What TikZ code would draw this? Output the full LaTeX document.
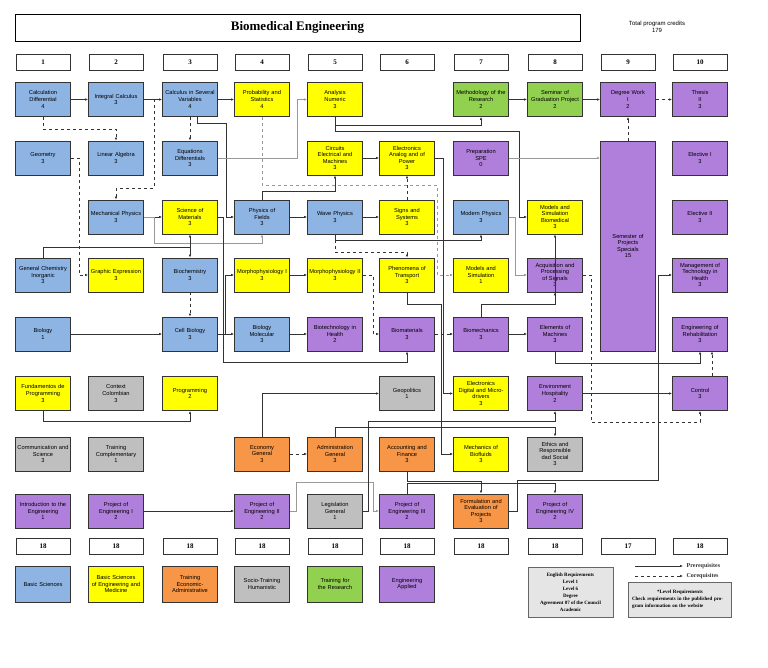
\documentclass[tikz,border=0pt]{standalone}
\usepackage{fontspec}
\setmainfont{Liberation Sans}
\newfontfamily\serifm{Liberation Serif}
\usetikzlibrary{arrows.meta,calc}
\definecolor{cB}{HTML}{8EB4E3}
\definecolor{cY}{HTML}{FFFF00}
\definecolor{cO}{HTML}{F79646}
\definecolor{cG}{HTML}{BFBFBF}
\definecolor{cN}{HTML}{92D050}
\definecolor{cP}{HTML}{B07FDB}
\begin{document}
\begin{tikzpicture}[x=1pt,y=-1pt,
 box/.style={draw=black!80,line width=0.8pt,minimum width=54pt,minimum height=34pt,align=center,font=\fontsize{5.7}{6.6}\selectfont,inner sep=1pt,text width=53pt},
 B/.style={box,fill=cB},Y/.style={box,fill=cY},O/.style={box,fill=cO},
 G/.style={box,fill=cG},N/.style={box,fill=cN},P/.style={box,fill=cP},
 num/.style={draw=black!80,line width=0.8pt,minimum width=54pt,minimum height=16pt,font=\serifm\fontsize{7}{8}\selectfont\bfseries},
 pre/.style={line width=0.6pt,black!80,-{Latex[length=3pt,width=2.5pt]}},
 co/.style={pre,dashed},
 gp/.style={pre,black!40},gc/.style={co,black!40}]
\useasboundingbox (0,0) rectangle (768,668);
\node[draw,line width=0.8pt,minimum width=565pt,minimum height=27pt,font=\serifm\fontsize{13}{15}\selectfont\bfseries] (title) at (297.5,27.5) {Biomedical Engineering};
\node[font=\fontsize{6}{7}\selectfont,align=center] (tot) at (657,27) {Total program credits\\179};
% headers
\foreach \i/\x in {1/43,2/116,3/190,4/262,5/335,6/407,7/481,8/555,9/628,10/700}
 \node[num] (h\i) at (\x,62) {\i};
\foreach \i/\x/\t in {1/43/18,2/116/18,3/190/18,4/262/18,5/335/18,6/407/18,7/481/18,8/555/18,9/628/17,10/700/18}
 \node[num] (c\i) at (\x,546) {\t};
% col1
\node[B] (cd) at (43,99.5) {Calculation\\Differential\\4};
\node[B] (geo) at (43,158) {Geometry\\3};
\node[B] (gc) at (43,275) {General Chemistry\\Inorganic\\3};
\node[B] (bio) at (43,334) {Biology\\1};
\node[Y] (fp) at (43,393.5) {Fundamentos de\\Programming\\3};
\node[G] (cs1) at (43,454) {Communication and\\Science\\3};
\node[P] (ie) at (43,511) {Introduction to the\\Engineering\\1};
% col2
\node[B] (ic) at (116,99.5) {Integral Calculus\\3};
\node[B] (la) at (116,158) {Linear Algebra\\3};
\node[B] (mp) at (116,217) {Mechanical Physics\\3};
\node[Y] (ge) at (116,275) {Graphic Expression\\3};
\node[G] (cc) at (116,393.5) {Context\\Colombian\\3};
\node[G] (tc) at (116,454) {Training\\Complementary\\1};
\node[P] (p1) at (116,511) {Project of\\Engineering I\\2};
% col3
\node[B] (cs) at (190,99.5) {Calculus in Several\\Variables\\4};
\node[B] (eqd) at (190,158) {Equations\\Differentials\\3};
\node[Y] (sm) at (190,217) {Science of\\Materials\\3};
\node[B] (bc) at (190,275) {Biochemistry\\3};
\node[B] (cb) at (190,334) {Cell Biology\\3};
\node[Y] (prog) at (190,393.5) {Programming\\2};
% col4
\node[Y] (ps) at (262,99.5) {Probability and\\Statistics\\4};
\node[B] (pf) at (262,217) {Physics of\\Fields\\3};
\node[Y] (m1) at (262,275) {Morphophysiology I\\3};
\node[B] (bm) at (262,334) {Biology\\Molecular\\3};
\node[O] (eg) at (262,454) {Economy\\General\\3};
\node[P] (p2) at (262,511) {Project of\\Engineering II\\2};
% col5
\node[Y] (an) at (335,99.5) {Analysis\\Numeric\\3};
\node[Y] (ce) at (335,158) {Circuits\\Electrical and\\Machines\\3};
\node[B] (wp) at (335,217) {Wave Physics\\3};
\node[Y] (m2) at (335,275) {Morphophysiology II\\3};
\node[P] (bt) at (335,334) {Biotechnology in\\Health\\2};
\node[O] (adm) at (335,454) {Administration\\General\\3};
\node[G] (leg) at (335,511) {Legislation\\General\\1};
% col6
\node[Y] (ea) at (407,158) {Electronics\\Analog and of\\Power\\3};
\node[Y] (ss) at (407,217) {Signs and\\Systems\\3};
\node[Y] (pt) at (407,275) {Phenomena of\\Transport\\3};
\node[P] (bmat) at (407,334) {Biomaterials\\3};
\node[G] (gp6) at (407,393.5) {Geopolitics\\1};
\node[O] (af) at (407,454) {Accounting and\\Finance\\3};
\node[P] (p3) at (407,511) {Project of\\Engineering III\\2};
% col7
\node[N] (meth) at (481,99.5) {Methodology of the\\Research\\2};
\node[P] (spe) at (481,158) {Preparation\\SPE\\0};
\node[B] (mph) at (481,217) {Modern Physics\\3};
\node[Y] (ms) at (481,275) {Models and\\Simulation\\1};
\node[P] (bmech) at (481,334) {Biomechanics\\3};
\node[Y] (edm) at (481,393.5) {Electronics\\Digital and Micro-\\drivers\\3};
\node[Y] (mbf) at (481,454) {Mechanics of\\Biofluids\\3};
\node[O] (fep) at (481,511) {Formulation and\\Evaluation of\\Projects\\3};
% col8
\node[N] (sem) at (555,99.5) {Seminar of\\Graduation Project\\2};
\node[Y] (msb) at (555,217) {Models and\\Simulation\\Biomedical\\3};
\node[P] (acq) at (555,275) {Acquisition and\\Processing\\of Signals\\3};
\node[P] (elm) at (555,334) {Elements of\\Machines\\3};
\node[P] (eh) at (555,393.5) {Environment\\Hospitality\\2};
\node[G] (eth) at (555,454) {Ethics and\\Responsible\\dad Social\\3};
\node[P] (p4) at (555,511) {Project of\\Engineering IV\\2};
% col9
\node[P] (dw) at (628,99.5) {Degree Work\\I\\2};
\node[P,minimum height=210pt] (spj) at (628,246) {Semester of\\Projects\\Specials\\15};
% col10
\node[P] (th) at (700,99.5) {Thesis\\II\\3};
\node[P] (e1) at (700,158) {Elective I\\3};
\node[P] (e2) at (700,217) {Elective II\\3};
\node[P] (mth) at (700,275) {Management of\\Technology in\\Health\\3};
\node[P] (reh) at (700,334) {Engineering of\\Rehabilitation\\3};
\node[P] (ctl) at (700,393.5) {Control\\3};
% legend
\node[B,minimum height=36pt] (l1) at (43,584) {Basic Sciences};
\node[Y,minimum height=36pt] (l2) at (116,584) {Basic Sciences\\of Engineering and\\Medicine};
\node[O,minimum height=36pt] (l3) at (190,584) {Training\\Economic-\\Administrative};
\node[G,minimum height=36pt] (l4) at (262,584) {Socio-Training\\Humanistic};
\node[N,minimum height=36pt] (l5) at (335,584) {Training for\\the Research};
\node[P,minimum height=36pt] (l6) at (407,584) {Engineering\\Applied};
\node[draw=black!60,fill=black!10,minimum width=85pt,minimum height=50pt,align=center,font=\serifm\fontsize{5}{7}\selectfont\bfseries] (eng) at (570.5,592) {English Requirements\\Level 1\\Level 6\\Degree\\Agreement 07 of the Council\\Academic};
\node[draw=black!60,fill=black!10,minimum width=100pt,minimum height=35pt,align=left,text width=96pt,font=\serifm\fontsize{5}{7}\selectfont\bfseries] (lvl) at (680,599.5) {\centering *Level Requirements\\ Check requirements in the published program information on the website};
\coordinate (a1) at (635,566); \coordinate (a2) at (683,566);
\coordinate (b1) at (635,576); \coordinate (b2) at (683,576);
\draw[pre] (a1) -- (a2) node[right,font=\serifm\fontsize{6}{7}\selectfont\bfseries,text=black!80] {Prerequisites};
\draw[co] (b1) -- (b2) node[right,font=\serifm\fontsize{6}{7}\selectfont\bfseries,text=black!80] {Corequisites};
% edges
\draw[pre] (cd) -- (ic);
\draw[pre] (ic) -- (cs);
\draw[pre] (cs) -- (ps);
\draw[co] (cd.south) -- ++(0,12) -| (la.north);
\draw[co] (cs.south) -- (eqd.north);
\draw[co] ($(ic.east)+(10,0)$) -- ++(0,89) -| (mp.north);
\draw[co] (geo.east) -- ++(8,0) |- (ge.west);
\draw[pre] ($(cs.south)+(7,0)$) -- ++(0,6) -| ($(pf.west)+(-8,0)$) -- (pf.west);
\draw[gp] (eqd.east) -| ($(an.west)+(-10,0)$) -- (an.west);
\draw[gc] (ps.south) -- ++(0,68) -| ($(ms.west)+(-16,0)$) -- (ms.west);
\draw[pre] (an.south) -- ++(0,8) -| (meth.south);
\draw[pre] (an.south) -- ++(0,14) -| ($(msb.west)+(-8,0)$) -- (msb.west);
\draw[pre] (pf.north) -- ++(0,-8) -| (ce.south);
\draw[pre] (ce) -- (ea);
\draw[pre] (pf) -- (wp);
\draw[pre] (wp) -- (ss);
\draw[co] (ss.north) -- (ea.south);
\draw[pre] (mp) -- (sm);
\draw[gp] (mp.east) -- ++(10,0) |- ($(pf.south)+(0,9)$) -- (pf.south);
\draw[pre] (gc.north) -- ++(0,-10) -| (bc.north);
\draw[pre] (190,248) -- (sm.south);
\draw[co] (bc.south) -- (cb.north);
\draw[pre] (bio) -- (cb);
\draw[pre] (cb) -- (bm);
\draw[pre] (cb.east) -- ++(7,0) |- (m1.west);
\draw[pre] (sm.east) -- ++(5,0) |- ($(bmat.south)+(0,11)$) -- (bmat.south);
\draw[pre] (m1) -- (m2);
\draw[co] (m2.east) -- ++(10,0) |- (bmat.west);
\draw[pre] (bm) -- (bt);
\draw[co] (wp.south) -- ++(0,18) -| (pt.north);
\draw[pre] (wp.south) -- ++(0,6) -| (mph.south);
\draw[gp] (mph.east) -- ++(6,0) |- (acq.west);
\draw[co] (bmat) -- (bmech);
\draw[pre] (bmech) -- (elm);
\draw[pre] (bmech.north) -- ++(0,-12) -| (acq.south);
\draw[pre] ($(bmech.north)+(0,-12)$) -| (msb.south);
\draw[pre] (ea.east) -- ++(8,0) |- (edm.west);
\draw[pre] (pt.south) -- ++(0,12) -| ($(mbf.west)+(-12,0)$) -- (mbf.west);
\draw[pre] (meth) -- (sem);
\draw[pre] (sem) -- (dw);
\draw[co] (dw) -- (th);
\draw[co] (spj.north) -- (dw.south);
\draw[gp] (spe.east) -- (spj.west |- spe.east);
\draw[pre] (eh) -- (ctl);
\draw[co] (acq.east) -- ++(8,0) |- ($(ctl.south)+(0,11)$) -- (ctl.south);
\draw[co] ($(ctl.north)+(12,0)$) -- ($(reh.south)+(12,0)$);
\draw[pre] (elm.south) -- ++(0,12) -| (reh.south);
\draw[pre] (fep.east) -- ++(8,0) |- ($(mth.west)+(-14,205)$) |- (mth.west);
\draw[pre] (eg.north) |- (gp6.west);
\draw[pre] (fp.south) -- ++(0,10) -| (prog.south);
\draw[co] (eg) -- (adm);
\draw[pre] (af.south) -- ++(0,10) -| (fep.north);
\draw[pre] (p1) -- (p2);
\draw[gp] (p2.east) -- ++(6,0) |- ($(p3.west)+(-6,-29)$) -- ++(0,29) -- (p3.west);
\draw[pre] (p3.north) -- ++(0,-10) -| (p4.north);
\draw[pre] (adm.north) -- ++(0,-9) -| (eth.north);
\draw[pre] (leg.east) -- ++(5,0) |- ($(eh.south)+(0,10)$) -- (eh.south);
\end{tikzpicture}
\end{document}
